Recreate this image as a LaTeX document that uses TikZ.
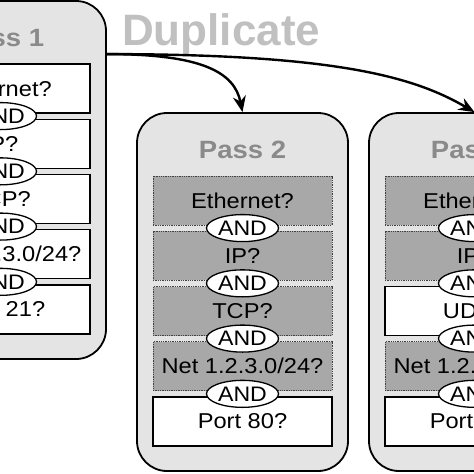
\documentclass[tikz,border=0pt]{standalone}
\usepackage{fontspec}
\setmainfont{Liberation Sans}
\newfontfamily\boxfont{Liberation Sans}[FakeStretch=1.1]
\usetikzlibrary{shapes.geometric,arrows.meta}

\definecolor{panelgray}{HTML}{E4E4E4}
\definecolor{boxgray}{HTML}{A8A8A8}
\definecolor{titlegray}{HTML}{8A8A8A}
\definecolor{dupgray}{HTML}{C0C0C0}

\begin{document}
\begin{tikzpicture}[x=1pt,y=-1pt,
    panel/.style={draw,line width=1.8pt,fill=panelgray,rounded corners=30pt,
      minimum width=211pt,minimum height=358pt},
    test/.style={draw,line width=1.3pt,fill=white,minimum width=179pt,minimum height=49pt,
      inner sep=0pt,font=\boxfont\fontsize{21.5}{24}\selectfont},
    shared/.style={test,fill=boxgray,draw=black!75,densely dotted,line width=1pt},
    andop/.style={ellipse,draw,line width=1.3pt,fill=white,minimum width=72pt,
      minimum height=27pt,inner sep=0pt,font=\boxfont\fontsize{21}{24}\selectfont},
    title/.style={anchor=base,inner sep=0pt,text=titlegray,
      font=\boxfont\bfseries\fontsize{25}{28}\selectfont},
    dupline/.style={line width=2.4pt,-{Stealth[length=16pt,width=13pt]}}]
  \useasboundingbox (0,0) rectangle (474,474);

  % the three passes
  \node[panel] (p1) at (0.5,180) {};
  \node[panel] (p2) at (242.5,292) {};
  \node[panel] (p3) at (474.5,292) {};
  \node[title] (p1t) at (0.5,46) {Pass 1};
  \node[title] (p2t) at (242.5,158) {Pass 2};
  \node[title] (p3t) at (474.5,158) {Pass 3};

  % pass 1: every test run
  \foreach \txt/\sty [count=\i] in {Ethernet?/test, IP?/test, TCP?/test, {Net 1.2.3.0/24?}/test, Port 21?/test}
    \node[\sty] (p1b\i) at (0.5,{88.5+55.25*(\i-1)}) {\txt};
  \foreach \i in {1,...,4}
    \node[andop] (p1a\i) at (0.5,{116.1+55.25*(\i-1)}) {AND};

  % pass 2: shared tests shaded
  \foreach \txt/\sty [count=\i] in {Ethernet?/shared, IP?/shared, TCP?/shared, {Net 1.2.3.0/24?}/shared, Port 80?/test}
    \node[\sty] (p2b\i) at (242.5,{200.5+55.25*(\i-1)}) {\txt};
  \foreach \i in {1,...,4}
    \node[andop] (p2a\i) at (242.5,{228.1+55.25*(\i-1)}) {AND};

  % pass 3
  \foreach \txt/\sty [count=\i] in {Ethernet?/shared, IP?/shared, UDP?/test, {Net 1.2.3.0/24?}/shared, Port 53?/test}
    \node[\sty] (p3b\i) at (474.5,{200.5+55.25*(\i-1)}) {\txt};
  \foreach \i in {1,...,4}
    \node[andop] (p3a\i) at (474.5,{228.1+55.25*(\i-1)}) {AND};

  % duplicate arrows
  \node[anchor=base west,inner sep=0pt,text=dupgray,
    font=\bfseries\fontsize{44}{48}\selectfont] (dup) at (122,45) {Duplicate};
  \coordinate (fork) at ([yshift=-54pt]p1.north east);
  \draw[dupline] (fork) .. controls +(95,0) and +(-8,-40) .. (p2.north);
  \draw[dupline] (fork) .. controls +(230,0) and +(-60,-35) .. (p3.north);
\end{tikzpicture}
\end{document}
